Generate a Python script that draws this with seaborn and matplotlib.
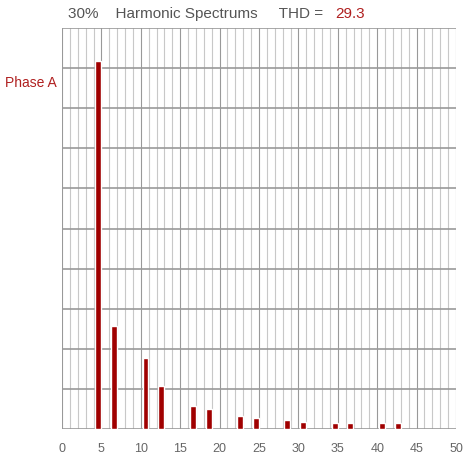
import seaborn as sns
import matplotlib.pyplot as plt
import numpy as np

harmonics = [5, 7, 11, 13, 17, 19, 23, 25, 29, 31, 35, 37, 41, 43]
magnitude = [27.5, 7.7, 5.3, 3.2, 1.7, 1.5, 1.0, 0.85, 0.65, 0.55, 0.42, 0.42, 0.42, 0.42]
x_ticks = [0, 5, 10, 15, 20, 25, 30, 35, 40, 45, 50]

sns.set_style("white")
plt.rcParams['font.family'] = ['Liberation Sans', 'DejaVu Sans']

fig = plt.figure(figsize=(4.74, 4.74), dpi=100)
ax = fig.add_axes([62 / 474, 45 / 474, 394 / 474, 401 / 474])

ax.bar(np.array(harmonics) - 0.4, magnitude, width=0.75, color='#a00000', zorder=3)

for v in range(0, 51):
    ax.axvline(v, color='#999999' if v % 5 == 0 else '#c8c8c8', lw=0.8, zorder=1)
for v in np.arange(0, 31, 3):
    ax.axhline(v, color='#999999', lw=1.2, zorder=1)

ax.set_xlim(0, 50)
ax.set_ylim(0, 30)
ax.set_xticks(x_ticks)
ax.set_yticks([])
ax.tick_params(axis='x', length=0, labelsize=9, colors='#666666', pad=10)
for s in ax.spines.values():
    s.set_visible(False)

fig.text(68 / 474, 1 - 14 / 474, "30%    Harmonic Spectrums     THD =", fontsize=11,
         color='#555555', va='center')
fig.text(335 / 474, 1 - 14 / 474, "29.3", fontsize=11, color='#b02020', va='center')
fig.text(5 / 474, 1 - 83 / 474, "Phase A", fontsize=10, color='#b02020', va='center')

fig.savefig('out.png', dpi=100)
